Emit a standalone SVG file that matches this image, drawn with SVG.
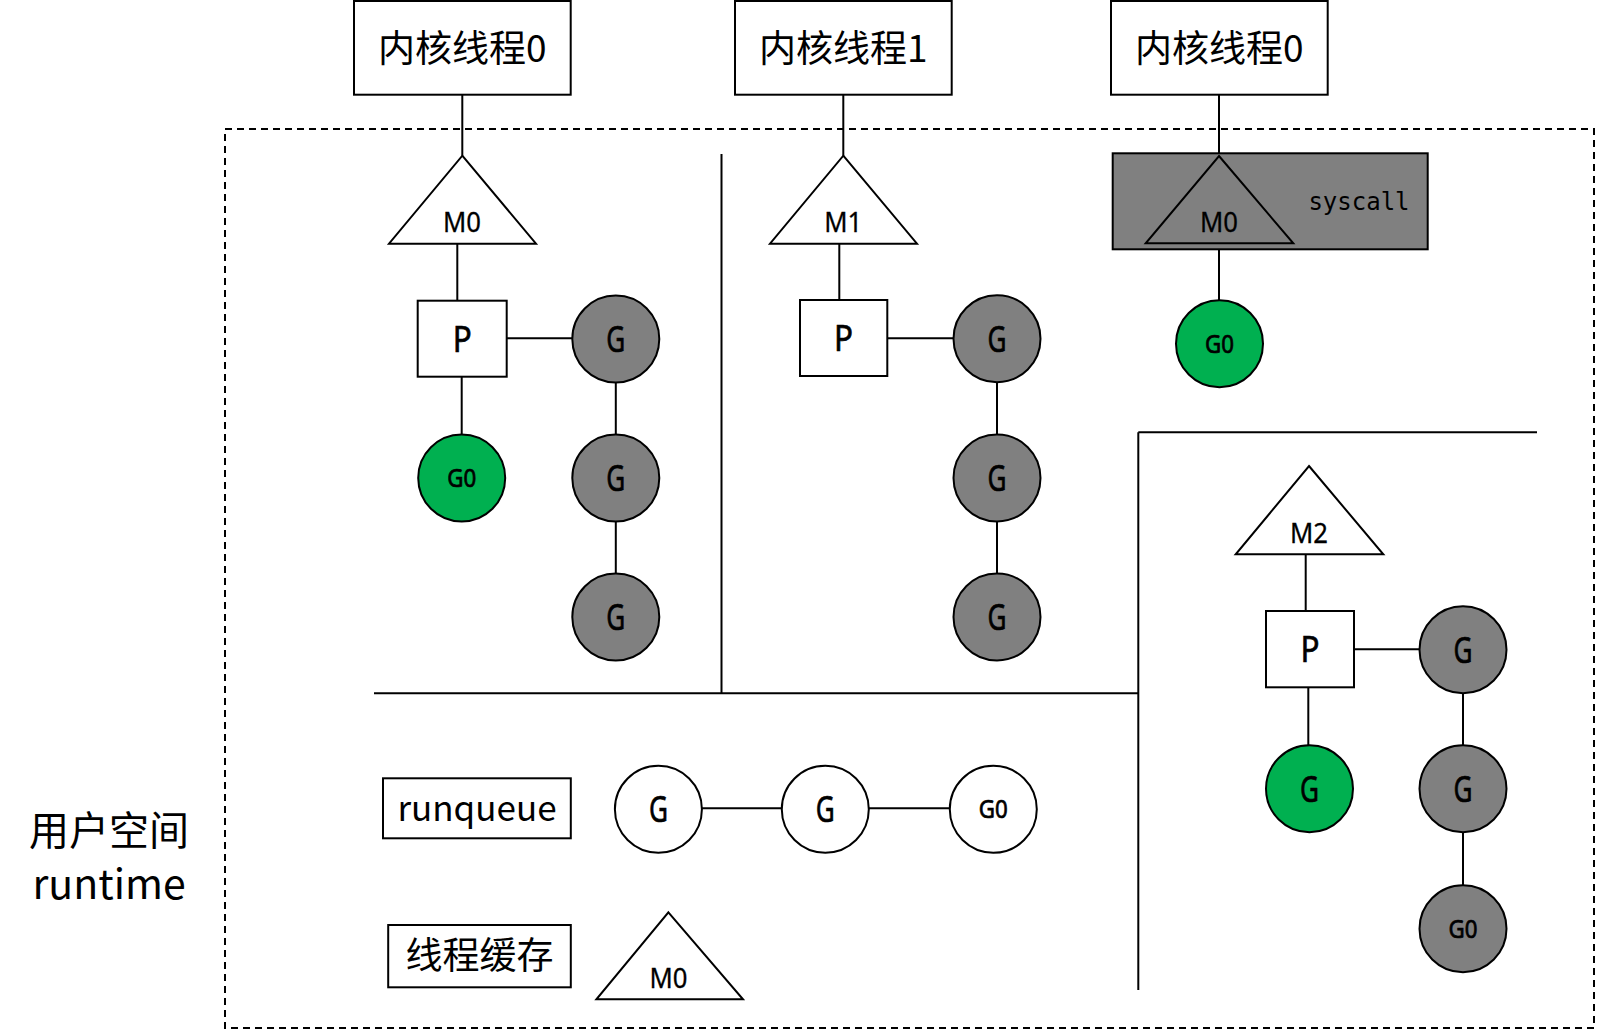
<svg xmlns="http://www.w3.org/2000/svg" width="1597" height="1031" viewBox="0 0 1597 1031">
<style>
.box{fill:#fff;stroke:#000;stroke-width:2}
.tri{fill:#fff;stroke:#000;stroke-width:2;stroke-linejoin:miter}
.ln{stroke:#000;stroke-width:2;fill:none}
.gray{fill:#808080;stroke:#000;stroke-width:2}
.green{fill:#00b050;stroke:#000;stroke-width:2}
.white{fill:#fff;stroke:#000;stroke-width:2}
.cjk{font-family:"Noto Sans CJK SC","Noto Sans",sans-serif;fill:#000}
.lab{font-family:"Noto Sans","DejaVu Sans",sans-serif;fill:#000;text-anchor:middle;stroke:#000;stroke-width:0.7}
.m{font-size:28px;stroke-width:0.3}
.g{font-size:37px}
.g0{font-size:25px}
</style>
<rect x="0" y="0" width="1597" height="1031" fill="#fff"/>
<g id="userspace-frame">
<rect x="225" y="129" width="1369" height="899" fill="none" stroke="#000" stroke-width="2" stroke-dasharray="7 5"/>
</g>
<g id="label-userspace">
<text class="cjk" x="109" y="845" font-size="40" text-anchor="middle">用户空间</text>
<text class="cjk" x="109" y="899" font-size="41" text-anchor="middle">runtime</text>
</g>
<g id="connectors">
<line class="ln" x1="462.3" y1="94.7" x2="462.3" y2="155.7"/>
<line class="ln" x1="457.3" y1="243.7" x2="457.3" y2="300.7"/>
<line class="ln" x1="461.7" y1="376.7" x2="461.7" y2="435"/>
<line class="ln" x1="506.7" y1="338.3" x2="572.3" y2="338.3"/>
<line class="ln" x1="615.8" y1="382.5" x2="615.8" y2="434.5"/>
<line class="ln" x1="615.8" y1="521.5" x2="615.8" y2="573.5"/>
<line class="ln" x1="843.3" y1="94.7" x2="843.3" y2="155.7"/>
<line class="ln" x1="839.3" y1="243.7" x2="839.3" y2="300"/>
<line class="ln" x1="887.3" y1="338.3" x2="953.3" y2="338.3"/>
<line class="ln" x1="997" y1="382.2" x2="997" y2="434.5"/>
<line class="ln" x1="997" y1="521.5" x2="997" y2="573.5"/>
<line class="ln" x1="1219" y1="94.7" x2="1219" y2="156"/>
<line class="ln" x1="1219" y1="243.3" x2="1219" y2="300"/>
<line class="ln" x1="1305.7" y1="554.3" x2="1305.7" y2="611"/>
<line class="ln" x1="1354" y1="649.3" x2="1419.3" y2="649.3"/>
<line class="ln" x1="1308.3" y1="687.3" x2="1308.3" y2="745.3"/>
<line class="ln" x1="1463" y1="693.2" x2="1463" y2="745.3"/>
<line class="ln" x1="1463" y1="832.3" x2="1463" y2="885.3"/>
<line class="ln" x1="701.9" y1="808.3" x2="781.8" y2="808.3"/>
<line class="ln" x1="868.8" y1="808.3" x2="949.8" y2="808.3"/>
</g>
<g id="dividers">
<line class="ln" x1="721.5" y1="154" x2="721.5" y2="693.3"/>
<line class="ln" x1="374" y1="693.3" x2="1138.3" y2="693.3"/>
<line class="ln" x1="1138.3" y1="432.3" x2="1138.3" y2="990"/>
<line class="ln" x1="1138.3" y1="432.3" x2="1537" y2="432.3"/>
</g>
<g id="kthread0">
<rect class="box" x="354" y="1" width="216.7" height="93.7"/>
<text class="cjk" x="462.3" y="61.5" font-size="37" text-anchor="middle">内核线程0</text>
</g>
<g id="kthread1">
<rect class="box" x="735" y="1" width="216.7" height="93.7"/>
<text class="cjk" x="843.3" y="61.5" font-size="37" text-anchor="middle">内核线程1</text>
</g>
<g id="kthread0b">
<rect class="box" x="1111" y="1" width="216.7" height="93.7"/>
<text class="cjk" x="1219.3" y="61.5" font-size="37" text-anchor="middle">内核线程0</text>
</g>
<g id="m0">
<polygon class="tri" points="462.3,155.7 536,243.7 389,243.7"/>
<text class="lab m" x="462" y="231.7" textLength="38" lengthAdjust="spacingAndGlyphs">M0</text>
</g>
<g id="p0">
<rect class="box" x="417.7" y="300.7" width="89" height="76"/>
<text class="lab g" x="462.2" y="351.7" textLength="19" lengthAdjust="spacingAndGlyphs">P</text>
</g>
<g id="g0-running">
<circle class="green" cx="461.7" cy="478" r="43.5"/>
<text class="lab g0" x="461.7" y="487" textLength="29" lengthAdjust="spacingAndGlyphs">G0</text>
</g>
<g id="p0-g1">
<circle class="gray" cx="615.8" cy="339" r="43.5"/>
<text class="lab g" x="615.8" y="352" textLength="19" lengthAdjust="spacingAndGlyphs">G</text>
</g>
<g id="p0-g2">
<circle class="gray" cx="615.8" cy="478" r="43.5"/>
<text class="lab g" x="615.8" y="491" textLength="19" lengthAdjust="spacingAndGlyphs">G</text>
</g>
<g id="p0-g3">
<circle class="gray" cx="615.8" cy="617" r="43.5"/>
<text class="lab g" x="615.8" y="630" textLength="19" lengthAdjust="spacingAndGlyphs">G</text>
</g>
<g id="m1">
<polygon class="tri" points="843.3,155.7 917,243.7 770,243.7"/>
<text class="lab m" x="843.3" y="231.7" textLength="38" lengthAdjust="spacingAndGlyphs">M1</text>
</g>
<g id="p1">
<rect class="box" x="800" y="300" width="87.3" height="76"/>
<text class="lab g" x="843.6" y="351" textLength="19" lengthAdjust="spacingAndGlyphs">P</text>
</g>
<g id="p1-g1">
<circle class="gray" cx="997" cy="338.7" r="43.5"/>
<text class="lab g" x="997" y="351.7" textLength="19" lengthAdjust="spacingAndGlyphs">G</text>
</g>
<g id="p1-g2">
<circle class="gray" cx="997" cy="478" r="43.5"/>
<text class="lab g" x="997" y="491" textLength="19" lengthAdjust="spacingAndGlyphs">G</text>
</g>
<g id="p1-g3">
<circle class="gray" cx="997" cy="617" r="43.5"/>
<text class="lab g" x="997" y="630" textLength="19" lengthAdjust="spacingAndGlyphs">G</text>
</g>
<g id="syscall">
<rect x="1112.7" y="153.3" width="315" height="96" fill="#808080" stroke="#000" stroke-width="2"/>
<text x="1359" y="210" font-family="DejaVu Sans Mono, Liberation Mono, monospace" font-size="24" text-anchor="middle" fill="#000">syscall</text>
</g>
<g id="m0-syscall">
<polygon points="1219,156 1293.3,243.3 1145.7,243.3" fill="none" stroke="#000" stroke-width="2"/>
<text class="lab m" x="1219" y="231.7" textLength="38" lengthAdjust="spacingAndGlyphs">M0</text>
</g>
<g id="g0-syscall">
<circle class="green" cx="1219.5" cy="343.7" r="43.5"/>
<text class="lab g0" x="1219.5" y="352.7" textLength="29" lengthAdjust="spacingAndGlyphs">G0</text>
</g>
<g id="m2">
<polygon class="tri" points="1309,466 1383.3,554.3 1235.7,554.3"/>
<text class="lab m" x="1309" y="542.7" textLength="38" lengthAdjust="spacingAndGlyphs">M2</text>
</g>
<g id="p2">
<rect class="box" x="1266" y="611" width="88" height="76.3"/>
<text class="lab g" x="1310" y="662" textLength="19" lengthAdjust="spacingAndGlyphs">P</text>
</g>
<g id="p2-g-running">
<circle class="green" cx="1309.5" cy="788.8" r="43.5"/>
<text class="lab g" x="1309.5" y="801.8" textLength="19" lengthAdjust="spacingAndGlyphs">G</text>
</g>
<g id="p2-g1">
<circle class="gray" cx="1463" cy="649.7" r="43.5"/>
<text class="lab g" x="1463" y="662.7" textLength="19" lengthAdjust="spacingAndGlyphs">G</text>
</g>
<g id="p2-g2">
<circle class="gray" cx="1463" cy="788.8" r="43.5"/>
<text class="lab g" x="1463" y="801.8" textLength="19" lengthAdjust="spacingAndGlyphs">G</text>
</g>
<g id="p2-g3">
<circle class="gray" cx="1463" cy="928.8" r="43.5"/>
<text class="lab g0" x="1463" y="937.8" textLength="29" lengthAdjust="spacingAndGlyphs">G0</text>
</g>
<g id="runqueue">
<rect class="box" x="383" y="778.3" width="187.8" height="60"/>
<text class="cjk" x="477" y="821" font-size="35" text-anchor="middle">runqueue</text>
</g>
<g id="rq-g1">
<circle class="white" cx="658.4" cy="809.3" r="43.5"/>
<text class="lab g" x="658.4" y="822.3" textLength="19" lengthAdjust="spacingAndGlyphs">G</text>
</g>
<g id="rq-g2">
<circle class="white" cx="825.3" cy="809.3" r="43.5"/>
<text class="lab g" x="825.3" y="822.3" textLength="19" lengthAdjust="spacingAndGlyphs">G</text>
</g>
<g id="rq-g0">
<circle class="white" cx="993.3" cy="809.3" r="43.5"/>
<text class="lab g0" x="993.3" y="818.3" textLength="29" lengthAdjust="spacingAndGlyphs">G0</text>
</g>
<g id="thread-cache">
<rect class="box" x="388.2" y="925" width="182.6" height="62.3"/>
<text class="cjk" x="479.5" y="969" font-size="37" text-anchor="middle">线程缓存</text>
</g>
<g id="m0-cache">
<polygon class="tri" points="668.4,912.3 743,999.3 596.4,999.3"/>
<text class="lab m" x="668.4" y="988.3" textLength="38" lengthAdjust="spacingAndGlyphs">M0</text>
</g>
</svg>
